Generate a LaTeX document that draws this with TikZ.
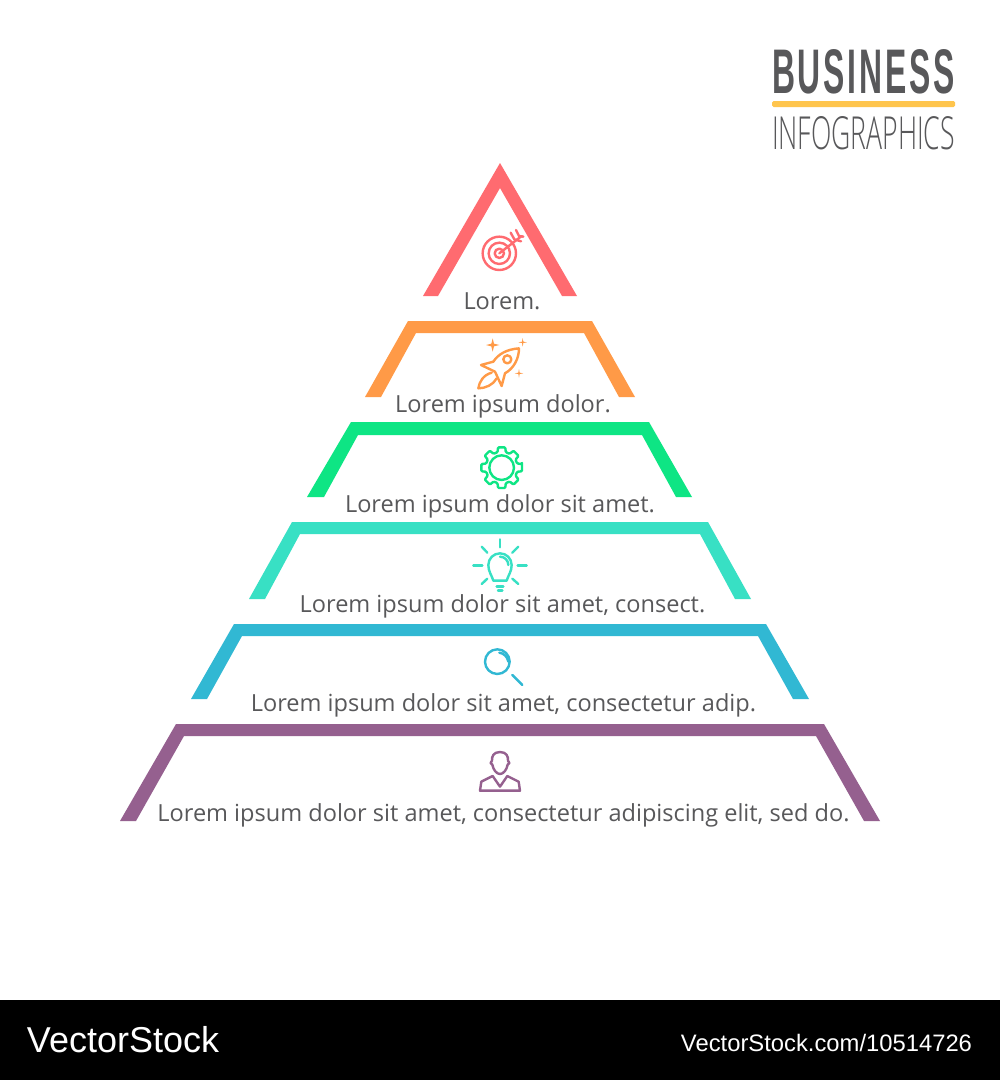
\documentclass[tikz,border=0pt]{standalone}
\usepackage{fontspec}
\setmainfont{Open Sans}
\newfontfamily\titlefont{Liberation Sans}
\newfontfamily\spacedfont[LetterSpace=9]{Liberation Sans}
\newfontfamily\lightfont{Open Sans Light}
\definecolor{cred}{HTML}{FF6B70}
\definecolor{corange}{HTML}{FF9A47}
\definecolor{cgreen}{HTML}{0EE584}
\definecolor{cteal}{HTML}{38E0C4}
\definecolor{cblue}{HTML}{31B8D3}
\definecolor{cpurple}{HTML}{95608F}
\definecolor{cbar}{HTML}{FFC54D}
\definecolor{cgray}{HTML}{58585A}
\tikzset{
  lab/.style={anchor=base,inner sep=0pt,outer sep=0pt,text=cgray,font=\fontsize{23.55}{24}\selectfont},
  iconline/.style={line width=2.4pt,line cap=round,line join=round,fill=none},
  z/.style 2 args={shift={(#1,#2)},x=0.3333pt,y=-0.3333pt},
  plain/.style={inner sep=0pt,outer sep=0pt},
}
\begin{document}
\begin{tikzpicture}[x=1pt,y=-1pt]
\useasboundingbox (0,0) rectangle (1000,1080);
\fill[white] (0,0) rectangle (1000,1000);
\fill[black] (0,1000) rectangle (1000,1080);
% pyramid
\fill[cred] (500,163) -- (577,296) -- (562,296) -- (500,188) -- (438,296) -- (423,296) -- cycle;
\fill[corange] (408,321) -- (592,321) -- (635,397) -- (619,397) -- (584,333) -- (416,333) -- (381,397) -- (365,397) -- cycle;
\fill[cgreen] (351,422) -- (649,422) -- (692,497) -- (676,497) -- (642,435) -- (358,435) -- (324,497) -- (307,497) -- cycle;
\fill[cteal] (292,522) -- (708,522) -- (751,599) -- (735,599) -- (700,534) -- (300,534) -- (265,599) -- (249,599) -- cycle;
\fill[cblue] (234,624) -- (766,624) -- (809,699) -- (793,699) -- (758,636) -- (242,636) -- (207,699) -- (191,699) -- cycle;
\fill[cpurple] (176,724) -- (824,724) -- (880,821) -- (864,821) -- (816,736) -- (184,736) -- (136,821) -- (120,821) -- cycle;
% labels
\node[lab] (l1) at (502,309) {Lorem.};
\node[lab] (l2) at (503,412) {Lorem ipsum dolor.};
\node[lab] (l3) at (500,512) {Lorem ipsum dolor sit amet.};
\node[lab] (l4) at (502.5,612) {Lorem ipsum dolor sit amet, consect.};
\node[lab] (l5) at (503.5,711) {Lorem ipsum dolor sit amet, consectetur adip.};
\node[lab] (l6) at (503.5,821) {Lorem ipsum dolor sit amet, consectetur adipiscing elit, sed do.};
% target
\begin{scope}[z={420}{150},draw=cred]
\draw[iconline] (238,310) circle (50);
\draw[iconline] (238,310) circle (32);
\draw[iconline] (238,310) circle (14);
\draw[iconline] (238,310) -- (305,258);
\draw[iconline] (272,248) -- (283,268) -- (303,274);
\draw[iconline] (288,240) -- (297,258) -- (310,260);
\end{scope}
% rocket
\begin{scope}[z={450}{330},draw=corange]
\draw[iconline] (207,55) .. controls (170,58) and (145,72) .. (130,95) -- (93,105) -- (135,125) -- (155,168) -- (165,130) .. controls (192,115) and (207,85) .. (207,55);
\draw[iconline] (172,88) circle (12);
\draw[iconline] (125,128) .. controls (100,135) and (88,155) .. (85,175) .. controls (105,175) and (130,165) .. (140,145);
\fill[corange] (128,25) -- (132,41) -- (148,45) -- (132,49) -- (128,65) -- (124,49) -- (108,45) -- (124,41) -- cycle;
\fill[corange] (218,24) -- (220,35) -- (231,37) -- (220,39) -- (218,50) -- (216,39) -- (205,37) -- (216,35) -- cycle;
\fill[corange] (207,117) -- (209,128) -- (220,130) -- (209,132) -- (207,143) -- (205,132) -- (194,130) -- (205,128) -- cycle;
\end{scope}
% gear
\begin{scope}[z={450}{330},draw=cgreen]
\draw[iconline] (155,413) circle (37);
\begin{scope}[shift={(155,413)}]
\draw[iconline,rounded corners=1pt] (-10:62) \foreach \a in {0,45,...,315} {
  -- (\a-10:62) -- (\a+10:62) -- (\a+15:48) -- (\a+30:48)
} -- cycle;
\end{scope}
\end{scope}
% bulb
\begin{scope}[z={450}{530},draw=cteal]
\draw[iconline] (130,152) .. controls (125,135) and (115,125) .. (115,105) arc[start angle=180,end angle=360,radius=35] .. controls (185,125) and (175,135) .. (170,152) -- cycle;
\draw[iconline] (150,80) arc[start angle=270,end angle=360,radius=25];
\draw[iconline] (140,170) -- (160,170);
\draw[iconline] (144,182) -- (157,182);
\draw[iconline] (150,28) -- (150,52);
\draw[iconline] (95,50) -- (112,68);
\draw[iconline] (205,50) -- (187,68);
\draw[iconline] (70,107) -- (97,107);
\draw[iconline] (230,107) -- (203,107);
\draw[iconline] (95,162) -- (112,146);
\draw[iconline] (205,162) -- (187,146);
\end{scope}
% magnifier
\begin{scope}[z={450}{530},draw=cblue]
\draw[iconline] (142,395) circle (37);
\draw[iconline] (148,368) .. controls (162,370) and (172,380) .. (175,395);
\draw[iconline] (187,435) -- (217,465);
\end{scope}
% person
\begin{scope}[z={450}{740},draw=cpurple]
\draw[iconline] (150,36) .. controls (130,36) and (125,50) .. (126,62) .. controls (118,65) and (122,74) .. (127,74) .. controls (130,90) and (140,102) .. (150,102) .. controls (160,102) and (170,90) .. (173,74) .. controls (178,74) and (182,65) .. (174,62) .. controls (175,50) and (170,36) .. (150,36) -- cycle;
\draw[iconline] (90,152) -- (94,125) -- (128,108) -- (150,140) -- (172,108) -- (206,125) -- (210,152) -- cycle;
\end{scope}
% title
\node[plain,anchor=north west,text=cgray] (t1) at (772,49) {\resizebox{183pt}{44pt}{\spacedfont\bfseries BUSINESS}};
\fill[cbar,rounded corners=1.5pt] (772,101) rectangle (955,107);
\node[plain,anchor=north west,text=cgray] (t2) at (772,116) {\resizebox{183pt}{33pt}{\lightfont INFOGRAPHICS}};
% watermark
\node[plain,anchor=west,text=white] (w1) at (27,1040) {\resizebox{192pt}{!}{\titlefont VectorStock}};
\node[plain,anchor=east,text=white] (w2) at (972,1043) {\resizebox{291pt}{!}{\titlefont VectorStock.com/10514726}};
\end{tikzpicture}
\end{document}
